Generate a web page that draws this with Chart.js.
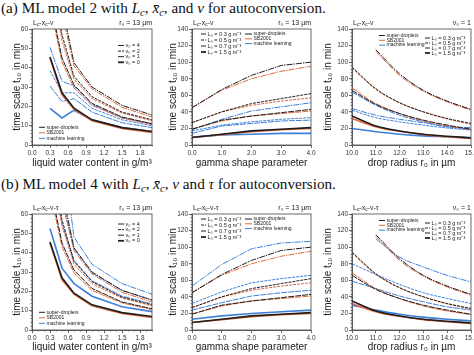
<!DOCTYPE html>
<html><head><meta charset="utf-8">
<script src="https://cdn.jsdelivr.net/npm/chart.js@4.4.1/dist/chart.umd.min.js"></script>
<style>
body{margin:0;background:#fff;}
#wrap{position:relative;width:474px;height:355px;overflow:hidden;font-family:"Liberation Sans",Arial,sans-serif;}
.ttl{position:absolute;left:1px;font-family:"Liberation Serif","Times New Roman",serif;font-size:15.2px;color:#111;white-space:nowrap;line-height:16px;}
.ttl sub{font-size:70%;vertical-align:-0.25em;line-height:0;}
canvas{position:absolute;}
.lab{position:absolute;font-size:7px;color:#222;white-space:nowrap;line-height:8px;}
.lab sub{font-size:70%;vertical-align:-0.2em;line-height:0;}
</style></head>
<body><div id="wrap">
<div class="ttl" style="top:0px">(a) ML model 2 with <i>L<sub>c</sub></i>, <i>x̄<sub>c</sub></i>, and <i>ν</i> for autoconversion.</div>
<div class="ttl" style="top:176px">(b) ML model 4 with <i>L<sub>c</sub></i>, <i>x̄<sub>c</sub></i>, <i>ν</i> and <i>τ</i> for autoconversion.</div>
</div>
<script>
// ---------- data ----------
const lwc = [0.3, 0.5, 0.7, 1.0, 1.5, 2.0];
const shapeParam = [0, 1, 2, 3, 4];
const radius = [10, 11, 12, 13, 14, 15];
const nuLabels = ['ν₀ = 4', 'ν₀ = 2', 'ν₀ = 1', 'ν₀ = 0'];
const l0Labels = ['L₀ = 0.3 g m⁻³', 'L₀ = 0.5 g m⁻³', 'L₀ = 0.7 g m⁻³', 'L₀ = 1.5 g m⁻³'];
const modelLabels = ['super-droplets', 'SB2001', 'machine learning'];

// liquid water content panels (series order: ν0 = 4, 2, 1, 0)
const sdLwc  = [[115, 72, 42.5, 30, 20.5, 15.5], [95, 57, 35.5, 25, 17, 13], [75, 45, 31, 21.5, 14.5, 11], [45.5, 27, 19, 13, 9, 7]];
const sbLwc  = [[110, 68, 41, 29, 19.5, 14.5], [90, 54, 34, 24, 16.5, 12.5], [72, 43, 29.5, 20.5, 14, 10.5], [45, 26, 18.5, 12.5, 8.5, 6.5]];
const ml2Lwc = [[50.5, 33, 30.5, 21, 14, 11], [38.5, 27, 27, 19, 13, 10], [30.5, 22.5, 24, 17, 11.5, 9], [19, 14, 18, 13, 9, 7]];
const ml4Lwc = [[140, 96, 48, 34, 24, 18.5], [110, 66, 42, 29.5, 20.5, 15.5], [85, 55, 36, 25.5, 17.5, 13.5], [52.5, 32, 24, 17.5, 12, 9.5]];

// gamma shape parameter panels (series order: L0 = 0.3, 0.5, 0.7, 1.5)
const sdShape  = [[45, 67, 84, 96, 100], [27, 40, 50, 56, 62], [19, 30, 35, 39, 43], [9, 13, 17, 19, 21]];
const sbShape  = [[45, 66, 80, 89, 95], [27, 40, 48, 53, 57], [19.5, 29, 35, 38, 41], [9, 12.5, 16, 18.5, 20]];
const ml2Shape = [[18.5, 31, 41, 46, 51], [17, 24, 28, 31, 33], [14, 23, 26, 29, 30], [9.5, 12, 13, 14, 14]];
const ml4Shape = [[53, 79, 98, 105, 107], [32, 46, 57, 62, 66], [24, 33, 41, 45, 48], [13, 17, 20, 22, 24]];

// drop radius panels (series order: L0 = 0.3, 0.5, 0.7, 1.5)
const sdRad  = [[null, 115, 86, 66, 53, 43], [94, 68, 51, 40, 32, 26], [66, 49, 38, 30, 24, 19], [35, 23, 17, 13, 10.5, 8.5]];
const sbRad  = [[null, 113, 84, 65, 52, 42], [93, 67, 51, 40, 31.5, 25], [69, 50, 38, 29, 23, 18.5], [32, 22, 16.5, 12.5, 10, 8]];
const ml2Rad = [[44, 36, 31, 27, 22, 21], [42, 33, 28, 24, 20.5, 18], [64, 48, 36, 28, 22, 19], [20, 16, 13, 11, 10, 9]];
const ml4Rad = [[null, 110, 88, 76, 66, 58], [80, 67, 55, 45, 38, 32], [59, 50, 41, 34, 28, 24], [30, 24, 19, 15.5, 13, 11]];

// ---------- styles ----------
const COL = {sd: '#1e1e1e', sb: '#e4693d', ml: '#3c80dc'};
const DASH = [[6, 1, 1.5, 1], [3, 1], [6, 1], []];
const WID = [1, 1, 1, 1.8];
const FONT = '"Liberation Sans", Arial, sans-serif';

const framePlugin = {
  id: 'frame',
  afterDatasetsDraw(chart, args, opts) {
    const {ctx, chartArea: a, scales} = chart;
    ctx.save(); ctx.strokeStyle = '#444'; ctx.lineWidth = 0.8;
    ctx.strokeRect(a.left, a.top, a.right - a.left, a.bottom - a.top);
    // minor ticks
    ctx.lineWidth = 0.6; ctx.beginPath();
    const ys = scales.y;
    for (let v = ys.min; v <= ys.max + 1e-9; v += opts.yMinor) {
      const py = Math.round(ys.getPixelForValue(v)) + 0.5;
      ctx.moveTo(a.left - 1.5, py); ctx.lineTo(a.left, py);
    }
    if (opts.xMinor) {
      const xs = scales.x;
      for (let v = xs.min; v <= xs.max + 1e-9; v += opts.xMinor) {
        const px = Math.round(xs.getPixelForValue(v)) + 0.5;
        ctx.moveTo(px, a.bottom); ctx.lineTo(px, a.bottom + 1.5);
      }
    }
    ctx.stroke();
    ctx.restore();
  }
};
const inLegend = {
  id: 'inLegend',
  afterDraw(chart, args, opts) {
    const {ctx, chartArea: a} = chart;
    (opts.groups || []).forEach(g => {
      g.items.forEach((it, i) => {
        const y = a.top + g.y + i * g.dy;
        ctx.save();
        ctx.strokeStyle = it.color; ctx.lineWidth = it.width; ctx.setLineDash(it.dash || []);
        ctx.beginPath(); ctx.moveTo(a.left + g.x, y); ctx.lineTo(a.left + g.x + g.len, y); ctx.stroke();
        ctx.setLineDash([]);
        ctx.fillStyle = '#222'; ctx.font = g.size + 'px ' + FONT; ctx.textBaseline = 'middle';
        ctx.fillText(it.label, a.left + g.x + g.len + 1.5, y);
        ctx.restore();
      });
    });
  }
};

function series(xs, ys, color, k, smooth) {
  return {data: xs.map((x, i) => ({x: x, y: ys[i]})), borderColor: color, borderWidth: k === 3 ? 1.6 : 1,
    borderDash: DASH[k], pointRadius: 0, fill: false, tension: 0,
    cubicInterpolationMode: smooth ? 'monotone' : 'default', spanGaps: false};
}
function styleItems(labels) {
  return labels.map((l, k) => ({label: l, color: '#222', dash: DASH[k], width: WID[k]}));
}
function modelItems() {
  return [{label: modelLabels[0], color: COL.sd, width: 1}, {label: modelLabels[1], color: COL.sb, width: 1}, {label: modelLabels[2], color: COL.ml, width: 1}];
}

function panel(p) {
  const cv = document.createElement('canvas');
  cv.width = p.w; cv.height = p.h;
  cv.style.left = p.left + 'px'; cv.style.top = p.top + 'px';
  cv.style.width = p.w + 'px'; cv.style.height = p.h + 'px';
  document.getElementById('wrap').appendChild(cv);
  const ds = [];
  for (let k = 0; k < 4; k++) ds.push(series(p.xs, p.sd[k], COL.sd, k, p.smooth));
  for (let k = 0; k < 4; k++) ds.push(series(p.xs, p.sb[k], COL.sb, k, p.smooth));
  for (let k = 0; k < 4; k++) ds.push(series(p.xs, p.ml[k], COL.ml, k, p.smooth));
  new Chart(cv, {
    type: 'line',
    data: {datasets: ds},
    options: {
      responsive: false, animation: false, devicePixelRatio: 1,
      layout: {padding: {top: p.padTop, right: p.padRight, left: 0, bottom: 0}},
      plugins: {legend: {display: false}, tooltip: {enabled: false}, inLegend: {groups: p.legends},
        frame: {yMinor: p.ystep / 5, xMinor: p.xMinor}},
      scales: {
        x: {type: 'linear', min: p.xmin, max: p.xmax,
          afterFit: s => { s.height = p.xh; s.paddingLeft = 0; s.paddingRight = 0; },
          ticks: {stepSize: p.xstep, includeBounds: false, autoSkip: false, maxRotation: 0, padding: 1,
            font: {size: 6.5, family: FONT}, color: '#333', callback: v => Number(v).toFixed(1)},
          grid: {drawOnChartArea: false, tickLength: 3, color: '#444', lineWidth: 0.8},
          border: {color: '#444', width: 0.8},
          title: {display: true, text: p.xTitle, font: {size: 10, family: FONT}, color: '#222', padding: {top: 0, bottom: p.xTitlePad}}},
        y: {type: 'linear', min: 0, max: p.ymax,
          afterFit: s => { s.width = p.yw; s.paddingTop = 0; s.paddingBottom = 0; },
          ticks: {stepSize: p.ystep, autoSkip: false, padding: 1, font: {size: 6.5, family: FONT}, color: '#333'},
          grid: {drawOnChartArea: false, tickLength: 3, color: '#444', lineWidth: 0.8},
          border: {color: '#444', width: 0.8},
          title: {display: true, text: 'time scale t₁₀ in min', font: {size: 10, family: FONT}, color: '#222', padding: {top: p.yTitlePad, bottom: 0}}}
      }
    },
    plugins: [framePlugin, inLegend]
  });
}
function label(html, x, y, right) {
  const d = document.createElement('div');
  d.className = 'lab'; d.innerHTML = html;
  d.style.top = (y - 4) + 'px';
  if (right) { d.style.right = (474 - x) + 'px'; } else { d.style.left = x + 'px'; }
  document.getElementById('wrap').appendChild(d);
}

const rows = [
  {top: 18, h: 157, xh: 30, xTitlePad: 6, ml: [ml2Lwc, ml2Shape, ml2Rad], tag: 'L<sub>c</sub>-x<sub>c</sub>-ν', nuY: 16.5},
  {top: 203, h: 152, xh: 25, xTitlePad: 2, ml: [ml4Lwc, ml4Shape, ml4Rad], tag: 'L<sub>c</sub>-x<sub>c</sub>-ν-τ', nuY: 10}
];
rows.forEach(r => {
  panel({left: 0, top: r.top, w: 157, h: r.h, yw: 32, padTop: 11, padRight: 5, xh: r.xh, xTitlePad: r.xTitlePad, yTitlePad: 11,
    xs: lwc, xmin: 0, xmax: 2.0, xstep: 0.3, xMinor: 0.1, ymax: 60, ystep: 10, xTitle: 'liquid water content in g/m³',
    sd: sdLwc, sb: sbLwc, ml: r.ml[0], smooth: false,
    legends: [{x: 86, y: r.nuY, dy: 5.6, len: 6, size: 5.5, items: styleItems(nuLabels)},
              {x: 7, y: 98.3, dy: 5.5, len: 6, size: 5, items: modelItems()}]});
  panel({left: 157, top: r.top, w: 161, h: r.h, yw: 35, padTop: 11, padRight: 7, xh: r.xh, xTitlePad: r.xTitlePad, yTitlePad: 10,
    xs: shapeParam, xmin: 0, xmax: 4, xstep: 1, ymax: 140, ystep: 20, xTitle: 'gamma shape parameter',
    sd: sdShape, sb: sbShape, ml: r.ml[1], smooth: false,
    legends: [{x: 9, y: 5, dy: 6, len: 5, size: 5.5, items: styleItems(l0Labels)},
              {x: 53, y: 5, dy: 4.8, len: 7, size: 5, items: modelItems()}]});
  panel({left: 314, top: r.top, w: 160, h: r.h, yw: 38, padTop: 11, padRight: 3, xh: r.xh, xTitlePad: r.xTitlePad, yTitlePad: 8,
    xs: radius, xmin: 10, xmax: 15, xstep: 1, ymax: 140, ystep: 20, xTitle: 'drop radius r₀ in µm',
    sd: sdRad, sb: sbRad, ml: r.ml[2], smooth: true,
    legends: [{x: 27, y: 6.5, dy: 4.8, len: 6, size: 5, items: modelItems()},
              {x: 73, y: 9, dy: 5, len: 5, size: 5.5, items: styleItems(l0Labels)}]});
  const ty = r.top + 5;
  label(r.tag, 33, ty, false); label('r₀ = 13 µm', 152, ty, true);
  label(r.tag, 193, ty, false); label('r₀ = 13 µm', 311, ty, true);
  label(r.tag, 353, ty, false); label('ν₀ = 1', 471, ty, true);
});
</script>
</body></html>
